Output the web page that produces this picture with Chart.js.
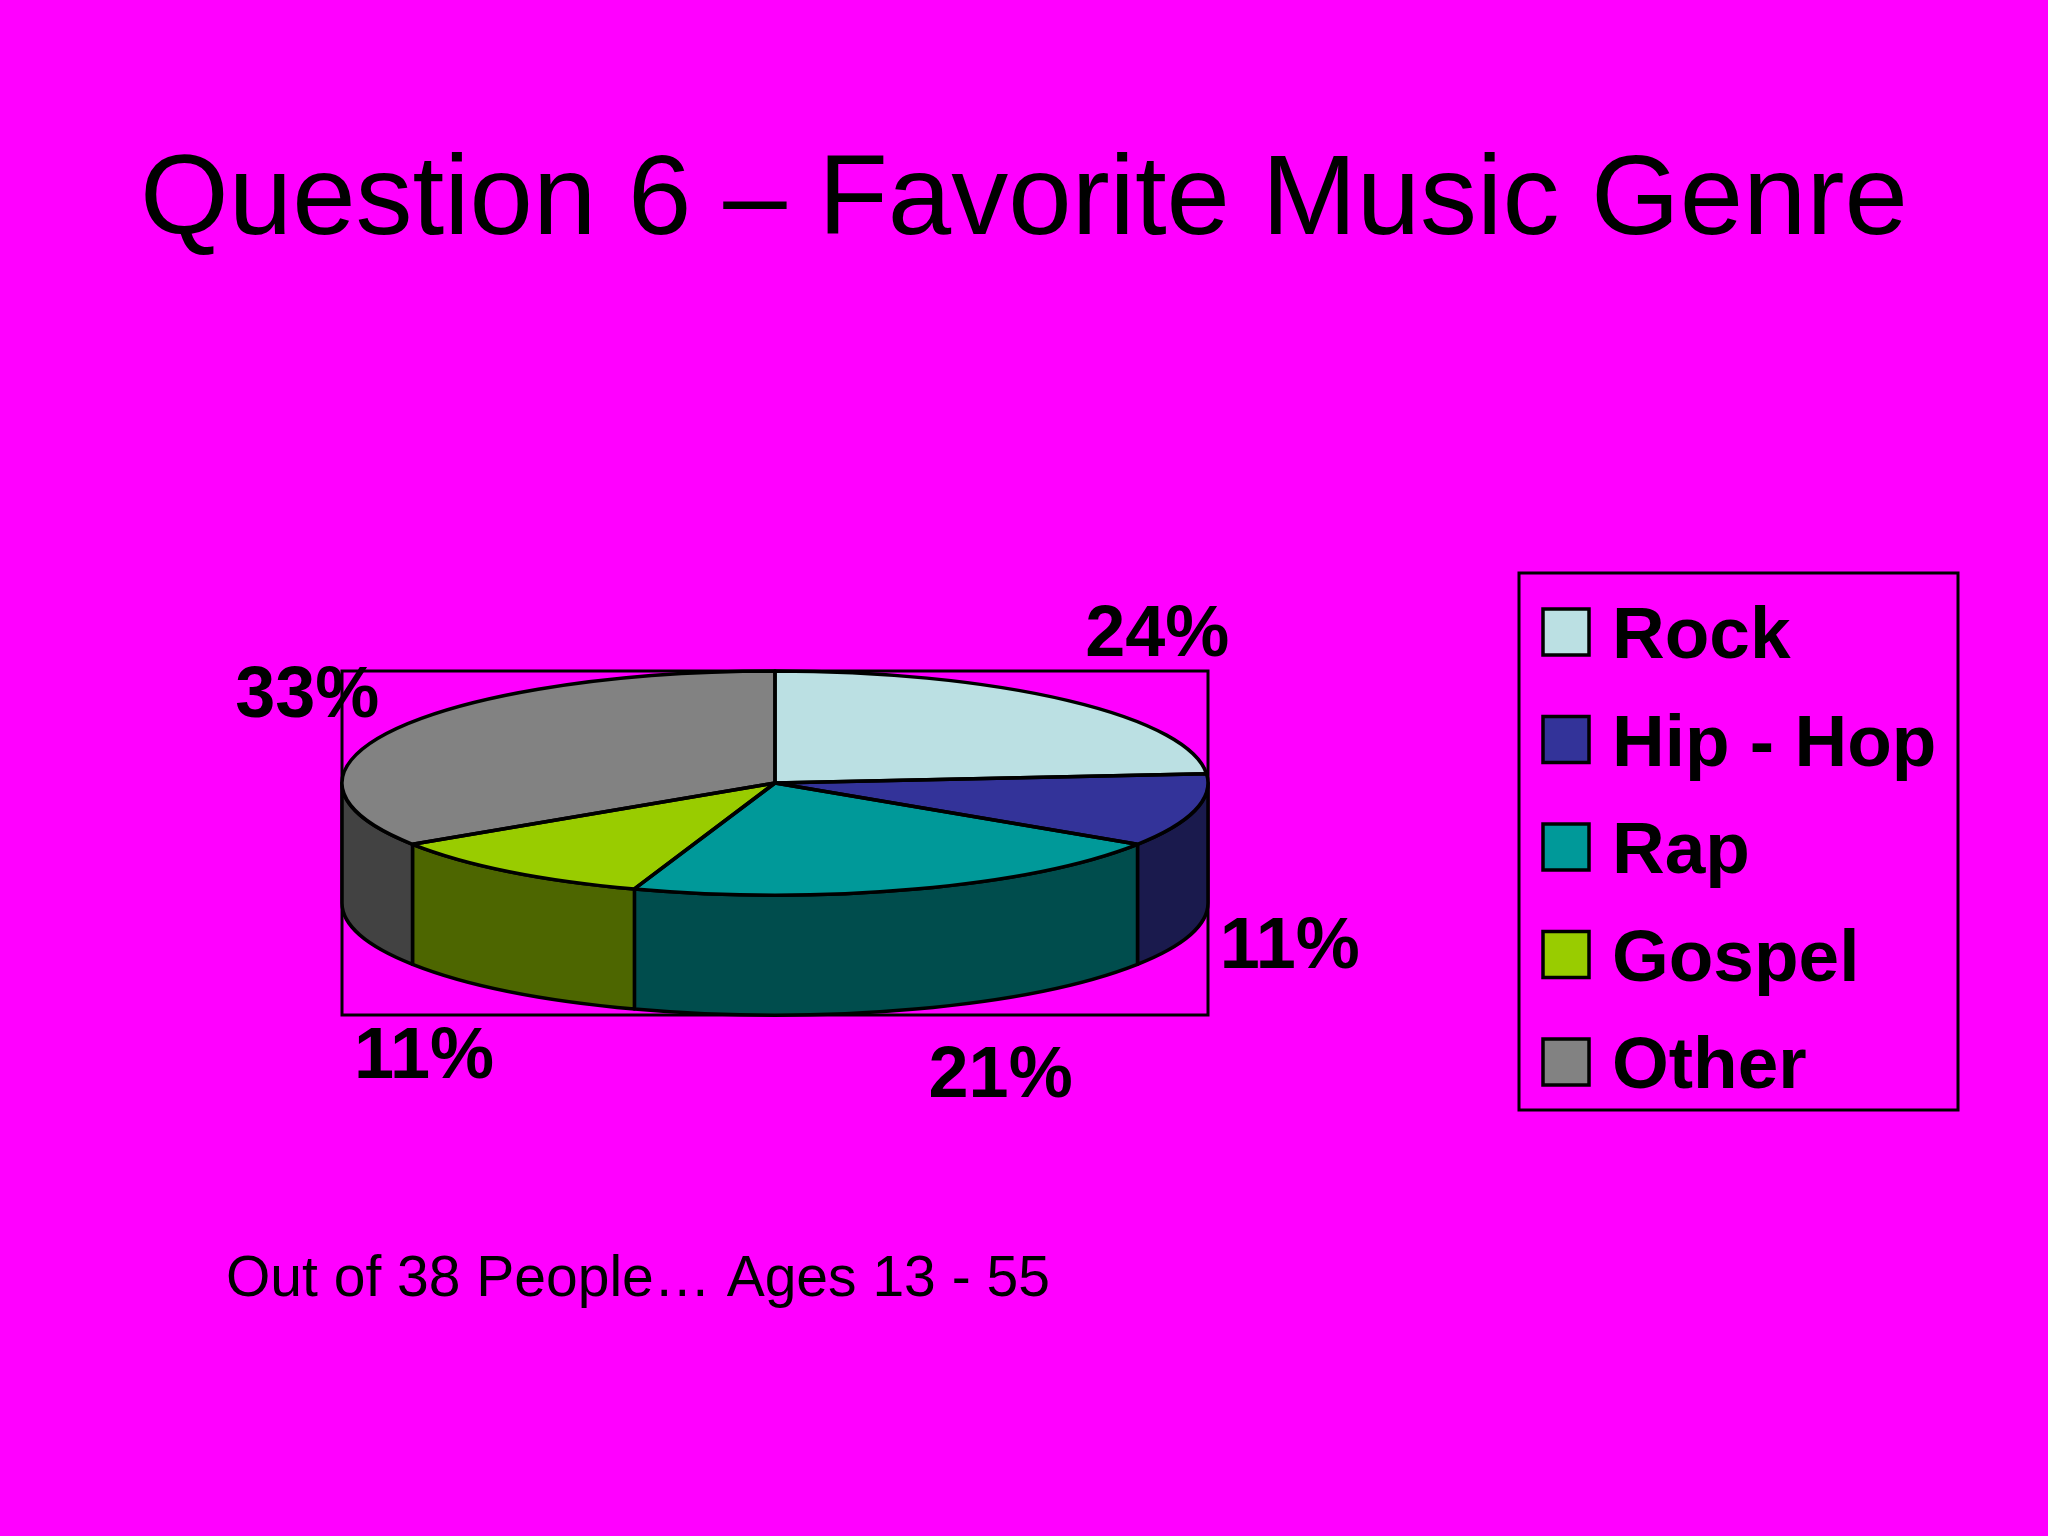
<!DOCTYPE html>
<html>
<head>
<meta charset="utf-8">
<title>Question 6</title>
<script src="https://cdn.jsdelivr.net/npm/chart.js@4"></script>
<style>
    html, body { margin: 0; padding: 0; background: #ff00ff; }
    canvas { display: block; }
</style>
</head>
<body>
<canvas id="genreChart" width="2048" height="1536"></canvas>
<script>
const titleText = 'Question 6 – Favorite Music Genre';
const captionText = 'Out of 38 People… Ages 13 - 55';
const genres = ['Rock', 'Hip - Hop', 'Rap', 'Gospel', 'Other'];
const people = [9, 4, 8, 4, 13];
const percentLabels = ['24%', '11%', '21%', '11%', '33%'];

const topColors = ['#bbe0e3', '#333399', '#009999', '#99cc00', '#828282'];
const sideColors = ['#5e7072', '#1a1a4d', '#004d4d', '#4d6600', '#424242'];
// label centre relative to the outer edge of its slice
const labelOffsetX = [89, 95, 85, -85, -87];
const labelOffsetY = [-64, 18, 68, 67, -33];

const fontFamily = '"Liberation Sans", Arial, sans-serif';
const squash = 112 / 433;
const depth = 120;
const lineWidth = 3;
const pieLineWidth = 3.5;

// tilts the pie and gives it a rim, the slices come from the library's arc elements
const tiltPlugin = {
    id: 'tilt',
    afterLayout(chart) {
        // padding keeps the pie left of the legend, the title still spans the page
        const title = chart.titleBlock;
        title.left = 0;
        title.right = chart.width;
        title.width = chart.width;
    },
    beforeDatasetsDraw(chart) {
        const ctx = chart.ctx;
        const arcs = chart.getDatasetMeta(0).data;
        const { x: cx, y: cy, outerRadius: r } = arcs[0];
        const ry = r * squash;

        ctx.save();
        ctx.strokeStyle = '#000';
        ctx.lineWidth = lineWidth;

        // plot area frame
        ctx.strokeRect(cx - r, cy - ry, r * 2, ry * 2 + depth);

        // rim, only the front half shows
        ctx.lineWidth = pieLineWidth;
        ctx.lineJoin = 'round';
        arcs.forEach((arc, i) => {
            const a0 = Math.max(arc.startAngle, 0);
            const a1 = Math.min(arc.endAngle, Math.PI);
            if (a1 <= a0) return;
            ctx.beginPath();
            ctx.ellipse(cx, cy, r, ry, 0, a0, a1);
            ctx.ellipse(cx, cy + depth, r, ry, 0, a1, a0, true);
            ctx.closePath();
            ctx.fillStyle = sideColors[i];
            ctx.fill();
            ctx.stroke();
        });
        ctx.restore();

        ctx.save();
        ctx.translate(cx, cy);
        ctx.scale(1, squash);
        ctx.translate(-cx, -cy);
    },
    afterDatasetsDraw(chart) {
        const ctx = chart.ctx;
        ctx.restore();

        const arcs = chart.getDatasetMeta(0).data;
        const { x: cx, y: cy, outerRadius: r } = arcs[0];
        const ry = r * squash;

        ctx.save();
        ctx.strokeStyle = '#000';
        ctx.lineWidth = pieLineWidth;
        ctx.lineJoin = 'round';
        arcs.forEach(arc => {
            ctx.beginPath();
            ctx.moveTo(cx, cy);
            ctx.ellipse(cx, cy, r, ry, 0, arc.startAngle, arc.endAngle);
            ctx.closePath();
            ctx.stroke();
        });

        // percent labels
        ctx.fillStyle = '#000';
        ctx.font = 'bold 72px ' + fontFamily;
        ctx.textAlign = 'center';
        ctx.textBaseline = 'middle';
        arcs.forEach((arc, i) => {
            const mid = (arc.startAngle + arc.endAngle) / 2;
            const front = Math.sin(mid) > 0 ? depth : 0;
            const x = cx + r * Math.cos(mid) + labelOffsetX[i];
            const y = cy + ry * Math.sin(mid) + front + labelOffsetY[i];
            ctx.fillText(percentLabels[i], x, y);
        });
        ctx.restore();
    },
    afterDraw(chart) {
        const ctx = chart.ctx;
        ctx.save();
        ctx.strokeStyle = '#000';
        ctx.fillStyle = '#000';
        ctx.lineWidth = lineWidth;

        // legend
        ctx.strokeRect(1519, 573, 439, 537);
        ctx.font = 'bold 73px ' + fontFamily;
        ctx.textAlign = 'left';
        ctx.textBaseline = 'alphabetic';
        genres.forEach((genre, i) => {
            const y = 609 + i * 107.5;
            ctx.fillStyle = topColors[i];
            ctx.fillRect(1543, y, 46, 46);
            ctx.lineWidth = pieLineWidth;
            ctx.strokeRect(1543, y, 46, 46);
            ctx.fillStyle = '#000';
            ctx.fillText(genre, 1612, y + 49);
        });

        // caption
        ctx.font = '57px ' + fontFamily;
        ctx.textBaseline = 'middle';
        ctx.fillText(captionText, 226, 1280);
        ctx.restore();
    }
};

new Chart(document.getElementById('genreChart').getContext('2d'), {
    type: 'pie',
    data: {
        labels: genres,
        datasets: [{
            data: people,
            backgroundColor: topColors,
            borderWidth: 0
        }]
    },
    options: {
        responsive: false,
        animation: false,
        layout: { padding: { left: 0, right: 498, top: 0, bottom: 320 } },
        plugins: {
            legend: { display: false },
            tooltip: { enabled: false },
            title: {
                display: true,
                text: titleText,
                color: '#000',
                font: { family: fontFamily, size: 114, weight: 'normal', lineHeight: 1.2 },
                padding: { top: 134, bottom: 79.2 }
            }
        }
    },
    plugins: [tiltPlugin]
});
</script>
</body>
</html>
